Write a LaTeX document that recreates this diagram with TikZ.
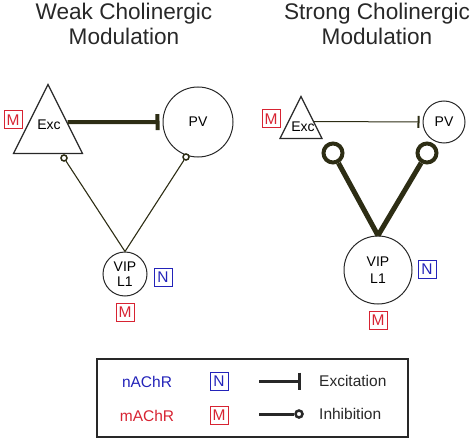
\documentclass[tikz,border=0pt]{standalone}
\usepackage{fontspec}
\setmainfont{Liberation Sans}
\usetikzlibrary{arrows.meta, shapes.geometric, positioning, calc}

\definecolor{syncol}{RGB}{45,45,20}
\definecolor{nblue}{RGB}{35,35,185}
\definecolor{mred}{RGB}{215,35,50}
\definecolor{txt}{RGB}{40,40,40}

\begin{document}
\begin{tikzpicture}[x=1pt, y=-1pt,
   cell/.style = {circle, draw=txt, line width=1pt, inner sep=0pt, align=center,
      font=\fontsize{14}{15}\selectfont},
   pyr/.style = {isosceles triangle, isosceles triangle stretches, shape border rotate=90,
      draw=txt, line width=1.2pt, inner sep=0pt, anchor=apex},
   celltext/.style = {inner sep=0pt, font=\fontsize{14}{15}\selectfont},
   rbox/.style = {draw, line width=1pt, minimum size=18pt, inner sep=0pt,
      font=\fontsize{15.5}{16}\selectfont},
   nbox/.style = {rbox, draw=nblue, text=nblue},
   mbox/.style = {rbox, draw=mred, text=mred},
   title/.style = {align=center, text=txt, font=\fontsize{22.6}{25}\selectfont},
   syn/.style = {circle, draw=syncol, fill=white, inner sep=0pt},
   keytext/.style = {inner sep=0pt, text=txt, font=\fontsize{15.5}{16}\selectfont}]
   \useasboundingbox (0,0) rectangle (474,441);

   % weak modulation
   \node[title] (tweak) at (124,24) {Weak Cholinergic\\Modulation};
   \node[pyr, minimum width=69pt, minimum height=69pt] (excA) at (48,83) {};
   \node[celltext] (excAtxt) at (49,125) {Exc};
   \node[cell, minimum size=70pt] (pvA) at (198,122) {PV};
   \node[cell, minimum size=44pt] (vipA) at (125,274) {VIP\\L1};
   \node[mbox] (mexcA) at (13,120) {M};
   \node[nbox] (nvipA) at (163,277) {N};
   \node[mbox] (mvipA) at (125,312) {M};
   \node[syn, line width=1.5pt, minimum size=6pt] (sA1) at (64,158) {};
   \node[syn, line width=1.5pt, minimum size=6pt] (sA2) at (186,157) {};

   \draw[syncol, line width=4pt, -{Bar[width=16pt]}, shorten >=3pt]
      ($(excA.apex)!0.55!(excA.right corner)$ |- pvA.west) -- (pvA.west);
   \draw[syncol, line width=1.1pt] (vipA.north) -- (sA1);
   \draw[syncol, line width=1.1pt] (vipA.north) -- (sA2);

   % strong modulation
   \node[title] (tstrong) at (377,24) {Strong Cholinergic\\Modulation};
   \node[pyr, minimum width=42pt, minimum height=42pt] (excB) at (301,95) {};
   \node[celltext] (excBtxt) at (303,127) {Exc};
   \node[cell, minimum size=42pt] (pvB) at (444,122) {PV};
   \node[cell, minimum size=68pt, font=\fontsize{14}{16.5}\selectfont] (vipB) at (378,270) {VIP\\L1};
   \node[mbox] (mexcB) at (271,119) {M};
   \node[nbox] (nvipB) at (427,269) {N};
   \node[mbox] (mvipB) at (378,320) {M};
   \node[syn, line width=4pt, minimum size=19pt] (sB1) at (333,153) {};
   \node[syn, line width=4pt, minimum size=19pt] (sB2) at (427,153) {};

   \draw[syncol, line width=1pt, -{Bar[width=12pt, line width=2pt]}, shorten >=3pt]
      ($(excB.apex)!0.6!(excB.right corner)$ |- pvB.west) -- (pvB.west);
   \draw[syncol, line width=5pt] (vipB.north) -- (sB1);
   \draw[syncol, line width=5pt] (vipB.north) -- (sB2);

   % legend
   \node[draw=txt, line width=1.5pt, minimum width=311pt, minimum height=78pt] (legend) at (252.5,398) {};
   \node[keytext, text=nblue] (nach) at (147,382) {nAChR};
   \node[keytext, text=mred] (mach) at (147,416) {mAChR};
   \node[nbox] (nkey) at (219,381) {N};
   \node[mbox] (mkey) at (219,415) {M};
   \coordinate (e0) at (259,381);
   \coordinate (e1) at (301,381);
   \draw[txt, line width=3pt, -{Bar[width=17pt]}] (e0) -- (e1);
   \node[keytext, anchor=west] (etxt) at (319,381) {Excitation};
   \coordinate (i0) at (259,414);
   \node[syn, draw=txt, line width=2.5pt, minimum size=7pt] (i1) at (299,414) {};
   \draw[txt, line width=3pt] (i0) -- (i1);
   \node[keytext, anchor=west] (itxt) at (319,414) {Inhibition};
\end{tikzpicture}
\end{document}
